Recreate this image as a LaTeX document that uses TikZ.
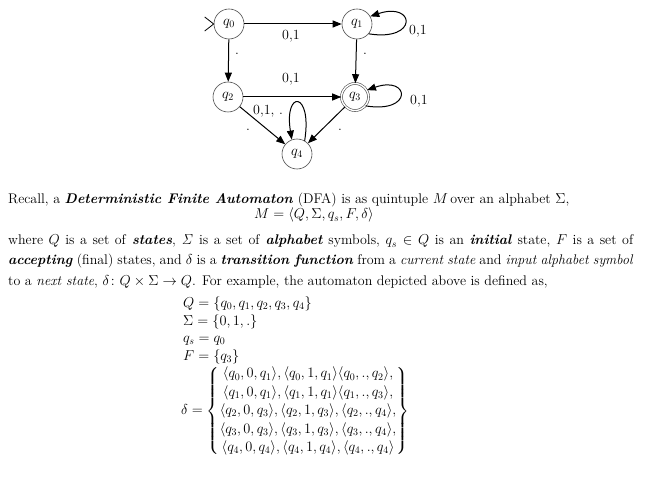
\documentclass[tikz,border=0pt]{standalone}
\usepackage{amsmath}
\usetikzlibrary{arrows.meta}
\begin{document}
\begin{tikzpicture}[x=1pt,y=-1pt,
  state/.style={circle,draw=black!70,line width=0.6pt,minimum size=30pt,inner sep=0pt,font=\fontsize{14}{17}\selectfont},
  accept/.style={state,double=white,double distance=1.4pt,minimum size=27pt},
  edge/.style={draw,line width=1pt,-{Triangle[length=9pt,width=7pt]}},
  lbl/.style={font=\fontsize{14}{17}\selectfont,inner sep=0pt,anchor=base},
  txt/.style={font=\fontsize{14}{17}\selectfont,anchor=base west,inner sep=0pt},
  startmark/.style={draw,line width=0.8pt},
]
\useasboundingbox[fill=white] (0,0) rectangle (658,478);

% states
\node[state]  (q0) at (229,24)  {$q_0$};
\node[state]  (q1) at (357,24)  {$q_1$};
\node[state]  (q2) at (228,97)  {$q_2$};
\node[accept] (q3) at (355,97)  {$q_3$};
\node[state]  (q4) at (297,154) {$q_4$};

% start marker
\draw[startmark] (q0.west) +(-9,-7) -- (q0.west) -- +(-9,7);

% transitions
\draw[edge] (q0) -- (q1);
\draw[edge] (q0) -- (q2);
\draw[edge] (q1) -- (q3);
\draw[edge] (q2) -- (q3);
\draw[edge] (q2) -- (q4);
\draw[edge] (q3) -- (q4);
\draw[edge] (q1.-40) .. controls +(50,8) and +(45,-15) .. (q1.30);
\draw[edge] (q3.-40) .. controls +(48,8) and +(43,-15) .. (q3.30);
\draw[edge] (q4.60) .. controls +(8,-50) and +(-8,-50) .. (q4.110);

% transition labels
\node[lbl] (a01) at (291,40)  {0,1};
\node[lbl] (a02) at (237,55)  {.};
\node[lbl] (a13) at (365,55)  {.};
\node[lbl] (a23) at (291,83)  {0,1};
\node[lbl] (a11) at (418,35)  {0,1};
\node[lbl] (a33) at (419,105) {0,1};
\node[lbl] (a44) at (268,115) {0,1, .};
\node[lbl] (a24) at (248,131) {.};
\node[lbl] (a34) at (340,131) {.};

% text
\node[txt] (t1) at (8,204) {Recall, a \textbf{\textit{Deterministic Finite Automaton}} (DFA) is as quintuple $M$\,over an alphabet $\Sigma$,};
\node[txt,anchor=base] (t2) at (314,219) {$M=\langle Q,\Sigma,q_s,F,\delta\rangle$};
\node[txt] (t3) at (8,245) {\hbox to 625pt{where $Q$ is a set of \textbf{\textit{states}}, $\mathit{\Sigma}$ is a set of \textbf{\textit{alphabet}} symbols, $q_s\in Q$ is an \textbf{\textit{initial}} state, $F$ is a set of}};
\node[txt] (t4) at (8,265) {\hbox to 625pt{\textbf{\textit{accepting}} (final) states, and $\delta$ is a \textbf{\textit{transition function}} from a \textit{current state} and \textit{input alphabet symbol}}};
\node[txt] (t5) at (8,285) {to a \textit{next state}, $\delta\colon Q\times\Sigma\rightarrow Q$. For example, the automaton depicted above is defined as,};

% definitions
\node[txt] (dQ) at (183,307) {$Q=\{q_0,q_1,q_2,q_3,q_4\}$};
\node[txt] (dS) at (183,325) {$\Sigma=\{0,1,.\}$};
\node[txt] (dq) at (183,342) {$q_s=q_0$};
\node[txt] (dF) at (183,360) {$F=\{q_3\}$};
\node[txt,anchor=west] (dd) at (181,411) {\renewcommand{\arraystretch}{1.08}\setlength{\arraycolsep}{1pt}\delimitershortfall=14pt\delimiterfactor=800%
$\delta=\left\{\begin{matrix}
\langle q_0,0,q_1\rangle,\langle q_0,1,q_1\rangle\langle q_0,.,q_2\rangle,\\
\langle q_1,0,q_1\rangle,\langle q_1,1,q_1\rangle\langle q_1,.,q_3\rangle,\\
\langle q_2,0,q_3\rangle,\langle q_2,1,q_3\rangle,\langle q_2,.,q_4\rangle,\\
\langle q_3,0,q_3\rangle,\langle q_3,1,q_3\rangle,\langle q_3,.,q_4\rangle,\\
\langle q_4,0,q_4\rangle,\langle q_4,1,q_4\rangle,\langle q_4,.,q_4\rangle
\end{matrix}\right\}$};
\end{tikzpicture}
\end{document}
